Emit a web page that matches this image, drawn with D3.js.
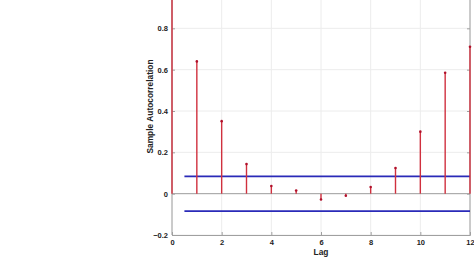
<!DOCTYPE html>
<html>
<head>
<meta charset="utf-8">
<script src="https://cdn.jsdelivr.net/npm/d3@7"></script>
<style>
  body { margin: 0; background: #fff; }
  svg { display: block; font-family: "Liberation Sans", Arial, sans-serif; }
</style>
</head>
<body>
<div id="chart"></div>
<script>
// sample autocorrelation by lag
const lags = [0, 1, 2, 3, 4, 5, 6, 7, 8, 9, 10, 11, 12];
const acf = [1, 0.64, 0.351, 0.143, 0.037, 0.015, -0.028, -0.01, 0.032, 0.124, 0.30, 0.585, 0.711];
const bound = 0.084;
const xTicks = [0, 2, 4, 6, 8, 10, 12];
const yTicks = [-0.2, 0, 0.2, 0.4, 0.6, 0.8];

const width = 474, height = 259;
const svg = d3.select('#chart').append('svg')
    .attr('width', width)
    .attr('height', height);

// plot box runs above the top of the image (it is cropped there)
const x = d3.scaleLinear().domain([0, 12]).range([172, 470]);
const y = d3.scaleLinear().domain([-0.2, 1]).range([235, -13]);

const gridColor = '#ececec';
const axisColor = '#a0a0a0';

// grid
svg.append('g').selectAll('line.vg')
    .data(xTicks)
    .join('line')
    .attr('x1', d => x(d)).attr('x2', d => x(d))
    .attr('y1', y(1)).attr('y2', y(-0.2))
    .attr('stroke', gridColor).attr('stroke-width', 1);

svg.append('g').selectAll('line.hg')
    .data(yTicks.concat([1]))
    .join('line')
    .attr('x1', x(0)).attr('x2', x(12))
    .attr('y1', d => y(d)).attr('y2', d => y(d))
    .attr('stroke', gridColor).attr('stroke-width', 1);

// zero baseline
svg.append('line')
    .attr('x1', x(0)).attr('x2', x(12))
    .attr('y1', y(0)).attr('y2', y(0))
    .attr('stroke', axisColor).attr('stroke-width', 1);

// axes (inward ticks, box)
const xAxis = d3.axisBottom(x).tickValues(xTicks).tickSize(-3).tickPadding(5).tickFormat(d3.format('d'));
const yAxis = d3.axisLeft(y).tickValues(yTicks).tickSize(-3).tickPadding(4).tickFormat(d => d === 0 ? '0' : d3.format('.1f')(d));

const gx = svg.append('g').attr('transform', `translate(0,${y(-0.2)})`).call(xAxis);
const gy = svg.append('g').attr('transform', `translate(${x(0)},0)`).call(yAxis);
const gr = svg.append('g').attr('transform', `translate(${x(12)},0)`)
    .call(d3.axisRight(y).tickValues(yTicks).tickSize(-3).tickFormat(''));

[gx, gy, gr].forEach(g => {
    g.selectAll('path.domain').attr('stroke', axisColor).attr('stroke-width', 1);
    g.selectAll('.tick line').attr('stroke', axisColor);
    g.selectAll('text')
        .attr('fill', '#222')
        .attr('font-size', '7.5px')
        .attr('font-weight', 'bold');
});
gy.select('path.domain').attr('d', `M0,${y(-0.2)}V${y(1)}`);
gr.select('path.domain').attr('d', `M0,${y(-0.2)}V${y(1)}`);

// confidence bounds
[bound, -bound].forEach(b => {
    svg.append('line')
        .attr('x1', x(0.5)).attr('x2', x(12))
        .attr('y1', y(b)).attr('y2', y(b))
        .attr('stroke', '#2a2ab8')
        .attr('stroke-width', 1.8);
});

// stems
const data = lags.map((l, i) => ({ lag: l, v: acf[i] }));
svg.append('g').selectAll('line')
    .data(data)
    .join('line')
    .attr('x1', d => x(d.lag)).attr('x2', d => x(d.lag))
    .attr('y1', y(0)).attr('y2', d => y(d.v))
    .attr('stroke', '#d0303e')
    .attr('stroke-width', 1.4);

svg.append('g').selectAll('circle')
    .data(data)
    .join('circle')
    .attr('cx', d => x(d.lag))
    .attr('cy', d => y(d.v))
    .attr('r', 1.3)
    .attr('fill', '#b0102a');

// labels
svg.append('text')
    .attr('x', (x(0) + x(12)) / 2)
    .attr('y', 255)
    .attr('text-anchor', 'middle')
    .attr('font-size', '8.4px')
    .attr('font-weight', 'bold')
    .attr('fill', '#222')
    .text('Lag');

svg.append('text')
    .attr('transform', `translate(152.5,106.5) rotate(-90)`)
    .attr('text-anchor', 'middle')
    .attr('font-size', '8.4px')
    .attr('font-weight', 'bold')
    .attr('fill', '#222')
    .text('Sample Autocorrelation');
</script>
</body>
</html>
